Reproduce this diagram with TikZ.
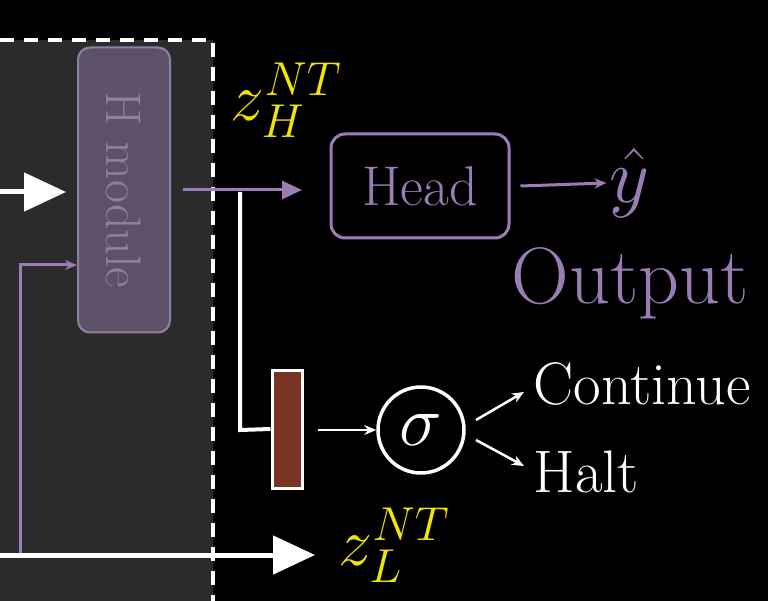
\RequirePackage{fix-cm}
\documentclass[tikz,border=0pt]{standalone}
\usetikzlibrary{arrows.meta}
\definecolor{pur}{HTML}{9B7DB5}
\definecolor{ylw}{HTML}{F2E600}
\definecolor{brn}{HTML}{7A3424}
\definecolor{hm}{HTML}{5E5068}
\definecolor{hmt}{HTML}{8F7FA0}
\begin{document}
\begin{tikzpicture}[x=1pt,y=-1pt,
  wl/.style={white,line width=5pt},
  pl/.style={pur,line width=3pt},
  big/.style={-{Triangle[length=42pt,width=38pt]}},
  mid/.style={-{Triangle[length=20pt,width=18pt]}},
  sm/.style={-{Stealth[length=12pt,width=10pt]}},
  lbl/.style={font=\fontsize{60}{64}\selectfont}]
\fill[black] (0,0) rectangle (768,601);
\useasboundingbox (0,0) rectangle (768,601);
\fill[black!83] (0,40) rectangle (213,601);
\draw[white,line width=4pt,dash pattern=on 14pt off 10pt] (0,40) -- (213,40) -- (213,601);
\node[draw=hmt,fill=hm,rounded corners=12pt,line width=2pt,minimum width=92pt,minimum height=285pt] (H) at (124,190) {};
\node[rotate=-90,text=hmt,font=\fontsize{50}{54}\selectfont] at (H.center) {H module};
\coordinate (in) at (0,192);
\coordinate (inE) at (66,192);
\draw[wl,big] (in) -- (inE);
\coordinate (b0) at (20,555);
\coordinate (b1) at (20,265);
\draw[pl,sm] (b0) -- (b1) -- (H.west |- b1);
\coordinate (l0) at (0,555);
\coordinate (l1) at (315,555);
\draw[wl,big] (l0) -- (l1);
\node[text=ylw,font=\fontsize{68}{72}\selectfont] (zl) at (394,545) {$z_L^{NT}$};
\node[draw=pur,rounded corners=14pt,line width=3pt,minimum width=178pt,minimum height=104pt,text=pur,font=\fontsize{56}{60}\selectfont] (head) at (420,186) {Head};
\coordinate (hs) at (183,190);
\draw[pl,mid] (hs) -- (302,190);
\node[text=ylw,font=\fontsize{68}{72}\selectfont] (zh) at (286,100) {$z_H^{NT}$};
\node[text=pur,font=\fontsize{78}{82}\selectfont] (y) at (630,183) {$\hat y$};
\draw[pur,line width=3pt,sm] (head.east)+(10,0) -- (y.west);
\node[text=pur,font=\fontsize{80}{84}\selectfont] at (630,283) {Output};
\node[draw=white,fill=brn,line width=3pt,minimum width=30pt,minimum height=118pt] (r) at (287,429) {};
\coordinate (s0) at (240,192);
\coordinate (s1) at (240,430);
\draw[wl,line width=4pt] (s0) -- (s1) -- (r.west);
\node[circle,draw=white,line width=3.5pt,minimum size=86pt,inner sep=0pt,text=white,font=\fontsize{72}{76}\selectfont] (sg) at (421,430) {$\sigma$};
\draw[white,line width=2.5pt,sm] (318,430) -- (sg.west);
\node[text=white,lbl,anchor=west] (c) at (530,384) {Continue};
\node[text=white,lbl,anchor=west] (h) at (530,472) {Halt};
\draw[white,line width=2.5pt,sm] (476,420) -- (524,392);
\draw[white,line width=2.5pt,sm] (476,440) -- (524,466);
\end{tikzpicture}
\end{document}
